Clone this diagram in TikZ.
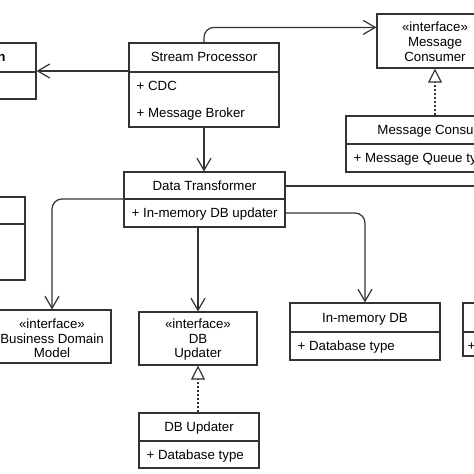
\documentclass[tikz,border=0pt]{standalone}
\usepackage{fontspec}
\setmainfont{Liberation Sans}
\usetikzlibrary{arrows.meta}
\begin{document}
\begin{tikzpicture}[x=1pt,y=-1pt,
  line width=1.2pt,
  color=black!80,
  box/.style={draw=black!80, line width=1.2pt, rectangle, inner sep=0pt},
  txt/.style={inner sep=0pt, text height=9.5pt, text depth=0pt, text=black,
              font=\fontsize{13.3}{15}\selectfont},
  ltxt/.style={txt, anchor=west},
  assoc/.style={-{Straight Barb[length=12pt,width=14pt,line width=1.2pt]}},
  real/.style={dash pattern=on 2pt off 2pt,
               -{Triangle[open,length=14pt,width=14pt,fill=white,line width=1.2pt]}}]
\useasboundingbox (0,0) rectangle (474,474);
\clip (0,0) rectangle (474,474);
\fill[white] (0,0) rectangle (474,474);

% left top partial class
\node[box, minimum width=116pt, minimum height=56pt] (lt) at (-22,71) {};
\draw (-80,72) -- (36,72);
\node[txt, anchor=east, font=\bfseries\fontsize{13.3}{15}\selectfont] (ltt) at (6,57) {n};

% Stream Processor
\node[box, minimum width=150pt, minimum height=84pt] (sp) at (204,85) {};
\draw (129,72) -- (279,72);
\node[txt] (spt) at (204,57) {Stream Processor};
\node[ltxt] (spa1) at (136,86) {+ CDC};
\node[ltxt] (spa2) at (136,113) {+ Message Broker};

% Message Consumer interface
\node[box, minimum width=116pt, minimum height=54pt] (mci) at (435,41) {};
\node[txt] (mci1) at (435,27) {«interface»};
\node[txt] (mci2) at (435,42) {Message};
\node[txt] (mci3) at (435,57) {Consumer};

% Message Consumer class
\node[box, minimum width=178pt, minimum height=56pt] (mcc) at (435,144) {};
\draw (346,144) -- (524,144);
\node[txt] (mcct) at (437,130) {Message Consumer};
\node[ltxt] (mcca) at (353,158) {+ Message Queue type};

% Data Transformer
\node[box, minimum width=161pt, minimum height=55pt] (dt) at (204.5,199.5) {};
\draw (124,199) -- (285,199);
\node[txt] (dtt) at (204.5,186) {Data Transformer};
\node[ltxt] (dta) at (131,213) {+ In-memory DB updater};

% left middle partial class
\node[box, minimum width=105pt, minimum height=83pt] (lm) at (-27.5,238.5) {};
\draw (-80,224) -- (25,224);

% Business Domain Model interface
\node[box, minimum width=118pt, minimum height=53pt] (bdm) at (52,336.5) {};
\node[txt] (bdm1) at (52,324) {«interface»};
\node[txt] (bdm2) at (52,338.5) {Business Domain};
\node[txt] (bdm3) at (52,353) {Model};

% DB Updater interface
\node[box, minimum width=118pt, minimum height=53pt] (dbi) at (198,338.5) {};
\node[txt] (dbi1) at (198,324) {«interface»};
\node[txt] (dbi2) at (198,338.5) {DB};
\node[txt] (dbi3) at (198,353) {Updater};

% DB Updater class
\node[box, minimum width=120pt, minimum height=55pt] (dbc) at (199,440.5) {};
\draw (139,441) -- (259,441);
\node[txt] (dbct) at (199,427) {DB Updater};
\node[ltxt] (dbca) at (146,455) {+ Database type};

% In-memory DB
\node[box, minimum width=150pt, minimum height=57pt] (imdb) at (365,331.5) {};
\draw (290,332) -- (440,332);
\node[txt] (imdbt) at (365,318) {In-memory DB};
\node[ltxt] (imdba) at (297,346) {+ Database type};

% right partial class
\node[box, minimum width=100pt, minimum height=53pt] (rp) at (513,329.5) {};
\draw (463,332) -- (563,332);
\node[ltxt] (rpa) at (467,346) {+};

% connectors
\coordinate (spw) at (sp.west |- lt.east);
\draw[assoc] (spw) -- (lt.east);

\coordinate (mciin) at ([yshift=-14pt]mci.north west);
\draw[assoc, rounded corners=10pt] (sp.north) |- (mciin);

\draw[assoc] (sp.south) -- (dt.north -| sp.south);

\coordinate (dte1) at (dt.east |- dtt);
\coordinate (offr) at (490,186);
\draw (dte1) -- (offr);

\coordinate (dtw) at (124,199);
\draw[assoc, rounded corners=10pt] (dtw) -| (bdm.north);

\coordinate (dtb) at (dt.south -| dbi.north);
\draw[assoc] (dtb) -- (dbi.north);

\coordinate (dte2) at (dt.east |- dta);
\draw[assoc, rounded corners=10pt] (dte2) -| (imdb.north);

\draw[real] (mcc.north) -- (mci.south);
\draw[real] (dbc.north -| dbi.south) -- (dbi.south);
\end{tikzpicture}
\end{document}
